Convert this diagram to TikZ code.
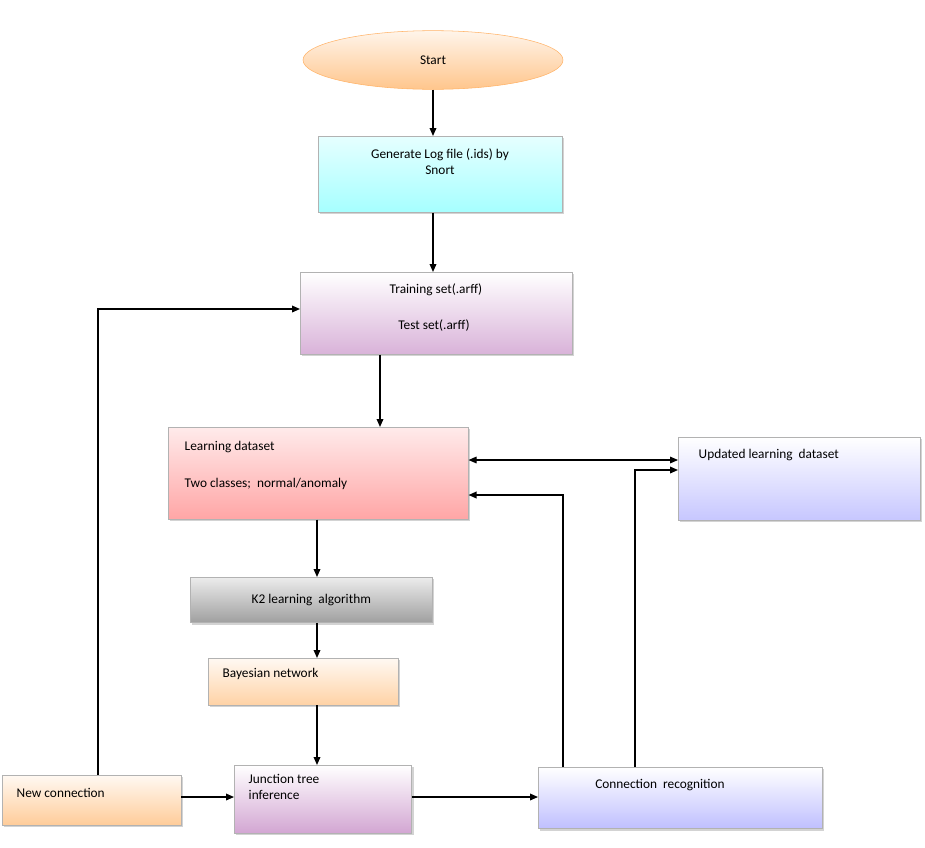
\documentclass[tikz,border=0pt]{standalone}
\usepackage{fontspec}
\setmainfont{Carlito}
\usetikzlibrary{arrows.meta,shadows,shapes.geometric}
\begin{document}
\begin{tikzpicture}[x=0.75pt,y=-0.75pt,
  every node/.style={font=\fontsize{10}{12}\selectfont},
  box/.style={draw=gray!60,line width=0.4pt,drop shadow={shadow xshift=1.5pt,shadow yshift=-1.5pt,opacity=0.35},anchor=north west,inner sep=0pt},
  arr/.style={-{Triangle[length=6pt,width=5pt]},line width=1pt},
  darr/.style={{Triangle[length=6pt,width=5pt]}-{Triangle[length=6pt,width=5pt]},line width=0.8pt}]
\useasboundingbox (0,0) rectangle (925,847);
\node[ellipse,draw=orange!60,top color=orange!8,bottom color=orange!45,minimum width=195pt,minimum height=44pt,inner sep=0pt] (start) at (433,60) {Start};
\node[box,top color=cyan!10,bottom color=cyan!35,minimum width=183pt,minimum height=57pt] (gen) at (318,136) {};
\node[align=center] at (440,162) {Generate Log file (.ids) by\\Snort};
\node[box,top color=white,bottom color=violet!30,minimum width=204pt,minimum height=61.5pt] (train) at (300,272) {};
\node at (436,290) {Training set(.arff)};
\node at (434,326) {Test set(.arff)};
\node[box,top color=red!8,bottom color=red!35,minimum width=225pt,minimum height=69pt] (learn) at (168,427) {};
\node[anchor=west] at (180,447) {Learning dataset};
\node[anchor=west] at (180,484) {Two classes;\ \ normal/anomaly};
\node[box,top color=white,bottom color=blue!22,minimum width=181.5pt,minimum height=62pt] (upd) at (678,437) {};
\node[anchor=west] at (694,455) {Updated learning\ \ dataset};
\node[box,top color=gray!15,bottom color=gray!75,minimum width=181.5pt,minimum height=34pt] (k2) at (190,577) {K2 learning\ \ algorithm};
\node[box,top color=orange!5,bottom color=orange!35,minimum width=142.5pt,minimum height=35pt] (bayes) at (208,658) {};
\node[anchor=west] at (218,674) {Bayesian network};
\node[box,top color=orange!5,bottom color=orange!40,minimum width=134pt,minimum height=37.5pt] (newc) at (2,775) {};
\node[anchor=west] at (12,793) {New connection};
\node[box,top color=white,bottom color=violet!35,minimum width=133pt,minimum height=51pt] (junc) at (234,765) {};
\node[anchor=north west,align=left] at (244,770) {Junction tree\\inference};
\node[box,top color=white,bottom color=blue!25,minimum width=213pt,minimum height=46pt] (conn) at (538,767) {};
\node at (660,785) {Connection\ \ recognition};
% connectors
\draw[arr] (start.south) -- (gen.north-|start.south);
\draw[arr] (gen.south-|start.south) -- (train.north-|start.south);
\coordinate (x1) at (380,0);
\draw[arr] (train.south-|x1) -- (learn.north-|x1);
\coordinate (x2) at (317,0);
\draw[arr] (learn.south-|x2) -- (k2.north-|x2);
\draw[arr] (k2.south-|x2) -- (bayes.north-|x2);
\draw[arr] (bayes.south-|x2) -- (junc.north-|x2);
\coordinate (y1) at (0,797);
\draw[arr] (newc.east|-y1) -- (junc.west|-y1);
\draw[arr] (junc.east|-y1) -- (conn.west|-y1);
\coordinate (a1) at (98,309);
\draw[arr] (newc.north-|a1) -- (a1) -- (train.west|-a1);
\coordinate (y2) at (0,460);
\draw[darr] (learn.east|-y2) -- (upd.west|-y2);
\coordinate (a2) at (563,495);
\draw[arr] (conn.north-|a2) -- (a2) -- (learn.east|-a2);
\coordinate (a3) at (635,470);
\draw[arr] (conn.north-|a3) -- (a3) -- (upd.west|-a3);
\end{tikzpicture}
\end{document}
